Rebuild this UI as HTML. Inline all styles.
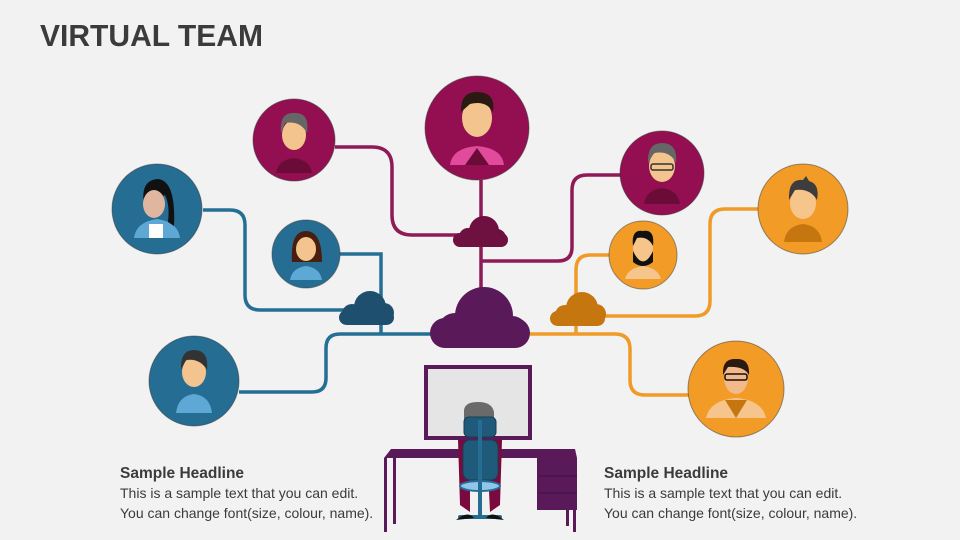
<!DOCTYPE html>
<html><head><meta charset="utf-8"><style>
body{margin:0;background:#f2f2f2;}
svg{display:block}
text{font-family:"Liberation Sans",sans-serif;}
</style></head><body>
<svg width="960" height="540" viewBox="0 0 960 540" xmlns="http://www.w3.org/2000/svg">
<rect width="960" height="540" fill="#f2f2f2"/>
<text x="40" y="46" font-size="31" font-weight="bold" fill="#3b3b3b" textLength="223" lengthAdjust="spacingAndGlyphs">VIRTUAL TEAM</text>

<g fill="none" stroke-width="3.5">
<path d="M335,147 H372 Q392,147 392,167 V215 Q392,235 412,235 H460" stroke="#8e1a56"/>
<path d="M481,180 V290" stroke="#8e1a56"/>
<path d="M481,261 H558 Q572,261 572,247 V190 Q572,175 587,175 H622" stroke="#8e1a56"/>
<path d="M203,210 H230 Q245,210 245,225 V295 Q245,310 260,310 H345" stroke="#256f95"/>
<path d="M340,254 H381 V334" stroke="#256f95"/>
<path d="M432,334 H340 Q326,334 326,348 V378 Q326,392 312,392 H239" stroke="#256f95"/>
<path d="M610,255 H590 Q576,255 576,270 V335" stroke="#f09a28"/>
<path d="M600,316 H695 Q710,316 710,301 V224 Q710,209 725,209 H758" stroke="#f09a28"/>
<path d="M530,334 H615 Q630,334 630,349 V380 Q630,395 645,395 H690" stroke="#f09a28"/>
</g>

<g fill="#6e1040"><circle cx="484" cy="231" r="15"/><circle cx="468" cy="237" r="9"/><rect x="453" y="233" width="55" height="14" rx="7"/><circle cx="497" cy="238" r="9"/></g>
<g fill="#1f4f6e"><circle cx="370" cy="307" r="16"/><circle cx="352" cy="314" r="10"/><rect x="339" y="310" width="55" height="15" rx="7.5"/><circle cx="384" cy="313" r="10"/></g>
<g fill="#c5760f"><circle cx="582" cy="308" r="16"/><circle cx="565" cy="315" r="10"/><rect x="550" y="311" width="55" height="15" rx="7.5"/><circle cx="596" cy="314" r="10"/></g>
<g fill="#5a1a5a"><circle cx="484" cy="316" r="29"/><circle cx="455" cy="330" r="17"/><circle cx="512" cy="332" r="16"/><rect x="430" y="318" width="100" height="30" rx="15"/></g>

<g stroke="#333" stroke-opacity=".5" stroke-width="1">
<circle cx="477" cy="128" r="52" fill="#930f52"/>
<circle cx="294" cy="140" r="41" fill="#930f52"/>
<circle cx="662" cy="173" r="42" fill="#930f52"/>
<circle cx="157" cy="209" r="45" fill="#256d93"/>
<circle cx="306" cy="254" r="34" fill="#256d93"/>
<circle cx="194" cy="381" r="45" fill="#256d93"/>
<circle cx="803" cy="209" r="45" fill="#f29c27"/>
<circle cx="643" cy="255" r="34" fill="#f29c27"/>
<circle cx="736" cy="389" r="48" fill="#f29c27"/>
</g>

<g>
<path d="M450,165 Q452,148 477,146 Q502,148 504,165 Z" fill="#e24a9b"/><path d="M465,165 L477,148 L489,165Z" fill="#6b0c38"/>
<ellipse cx="477" cy="118" rx="15" ry="19" fill="#f3c48d"/><path d="M461,112 Q460,92 477,92 Q496,92 493,112 Q486,100 470,104Z" fill="#2b1a12"/>
<path d="M276,173 Q278,160 294,158 Q310,160 312,173Z" fill="#6b0c38"/>
<ellipse cx="294" cy="135" rx="12" ry="15" fill="#f3c48d"/><path d="M281,133 Q279,112 294,113 Q310,112 307,133 Q300,120 285,123Z" fill="#666"/>
<path d="M644,204 Q646,190 662,188 Q678,190 680,204Z" fill="#6b0c38"/>
<ellipse cx="662" cy="166" rx="13" ry="16" fill="#f3c48d"/><path d="M648,163 Q647,143 662,143 Q678,143 676,163 Q670,150 654,153Z" fill="#666"/>
<rect x="651" y="164" width="22" height="6" rx="2" fill="none" stroke="#333" stroke-width="1.5"/>
<path d="M134,238 Q136,222 157,219 Q178,222 180,238Z" fill="#5ea8d6"/><rect x="149" y="224" width="14" height="14" fill="#fff"/>
<path d="M144,205 Q140,180 158,179 Q176,181 174,226 L168,222 Q170,205 165,195Z" fill="#111"/>
<ellipse cx="154" cy="204" rx="11" ry="14" fill="#e1b6a0"/>
<path d="M290,280 Q292,268 306,266 Q320,268 322,280Z" fill="#5ea8d6"/>
<path d="M292,262 Q290,231 306,231 Q322,231 322,262Z" fill="#4a1e0e"/>
<ellipse cx="306" cy="249" rx="10" ry="12" fill="#f3c48d"/>
<path d="M176,413 Q178,396 194,394 Q210,396 212,413Z" fill="#5ea8d6"/>
<ellipse cx="194" cy="372" rx="12" ry="15" fill="#f3c48d"/><path d="M181,370 Q180,350 194,350 Q209,350 207,370 Q200,358 186,360Z" fill="#333"/>
<path d="M784,242 Q786,226 803,224 Q820,226 822,242Z" fill="#c5760f"/>
<ellipse cx="803" cy="203" rx="13" ry="16" fill="#f6c58c"/><path d="M789,200 Q788,178 803,180 L806,176 L809,181 Q820,184 817,200 Q810,188 795,190Z" fill="#3d3d3d"/>
<path d="M625,279 Q628,268 643,266 Q658,268 661,279Z" fill="#f6c58c"/>
<ellipse cx="643" cy="248" rx="10" ry="13" fill="#f6c58c"/><path d="M633,251 Q643,272 653,251 L653,262 Q643,270 633,262Z" fill="#111"/><path d="M633,246 Q631,229 643,231 Q655,229 653,246 Q648,236 637,238Z" fill="#111"/>
<path d="M706,418 Q710,400 736,398 Q762,400 766,418Z" fill="#f6c58c"/><path d="M725,400 L736,418 L747,400Z" fill="#c5760f"/>
<ellipse cx="736" cy="378" rx="12" ry="16" fill="#f3b98a"/><path d="M723,375 Q722,358 736,359 Q750,358 749,375 Q744,366 728,367Z" fill="#2b1a12"/>
<rect x="725" y="374" width="22" height="6" rx="2" fill="none" stroke="#111" stroke-width="1.5"/>
</g>

<rect x="426" y="367" width="104" height="71" fill="#e5e5e5" stroke="#5a1a5a" stroke-width="4"/>
<path d="M384,458 L391,449 L575,449 L577,458Z" fill="#5a1a5a"/>
<rect x="384" y="458" width="3" height="74" fill="#5a1a5a"/>
<rect x="393" y="458" width="3" height="66" fill="#5a1a5a"/>
<rect x="537" y="458" width="40" height="52" fill="#5a1a5a"/>
<g stroke="#3f0f3f" stroke-width="1"><line x1="539" y1="476" x2="577" y2="476"/><line x1="539" y1="493" x2="577" y2="493"/></g>
<rect x="566" y="510" width="3" height="16" fill="#5a1a5a"/><rect x="573" y="510" width="3" height="22" fill="#5a1a5a"/>
<path d="M464,410 Q465,402 478,402 Q492,402 494,412 L494,420 L464,420Z" fill="#6a6a6a"/>
<path d="M458,440 L460,505 L470,512 L470,470 L488,470 L490,512 L500,505 L502,440Z" fill="#7a0a3e"/>
<rect x="464" y="417" width="32" height="20" rx="5" fill="#1f5a7a" stroke="#173d55"/>
<rect x="463" y="440" width="35" height="40" rx="7" fill="#1f5a7a" stroke="#173d55"/>
<ellipse cx="480" cy="486" rx="20" ry="5" fill="#8fc7ea" stroke="#256d93" stroke-width="2"/>
<rect x="478" y="420" width="4" height="98" fill="#256d93"/>
<path d="M460,517 h40" stroke="#256d93" stroke-width="4" stroke-linecap="round"/>
<path d="M456,520 Q468,510 474,518 Z M486,518 Q492,510 504,520Z" fill="#111"/>

<text x="120" y="478" font-size="15.5" font-weight="bold" fill="#3b3b3b">Sample Headline</text>
<text x="120" y="498" font-size="14" fill="#3b3b3b">This is a sample text that you can edit.</text>
<text x="120" y="518" font-size="14" fill="#3b3b3b">You can change font(size, colour, name).</text>
<text x="604" y="478" font-size="15.5" font-weight="bold" fill="#3b3b3b">Sample Headline</text>
<text x="604" y="498" font-size="14" fill="#3b3b3b">This is a sample text that you can edit.</text>
<text x="604" y="518" font-size="14" fill="#3b3b3b">You can change font(size, colour, name).</text>
</svg>
</body></html>
